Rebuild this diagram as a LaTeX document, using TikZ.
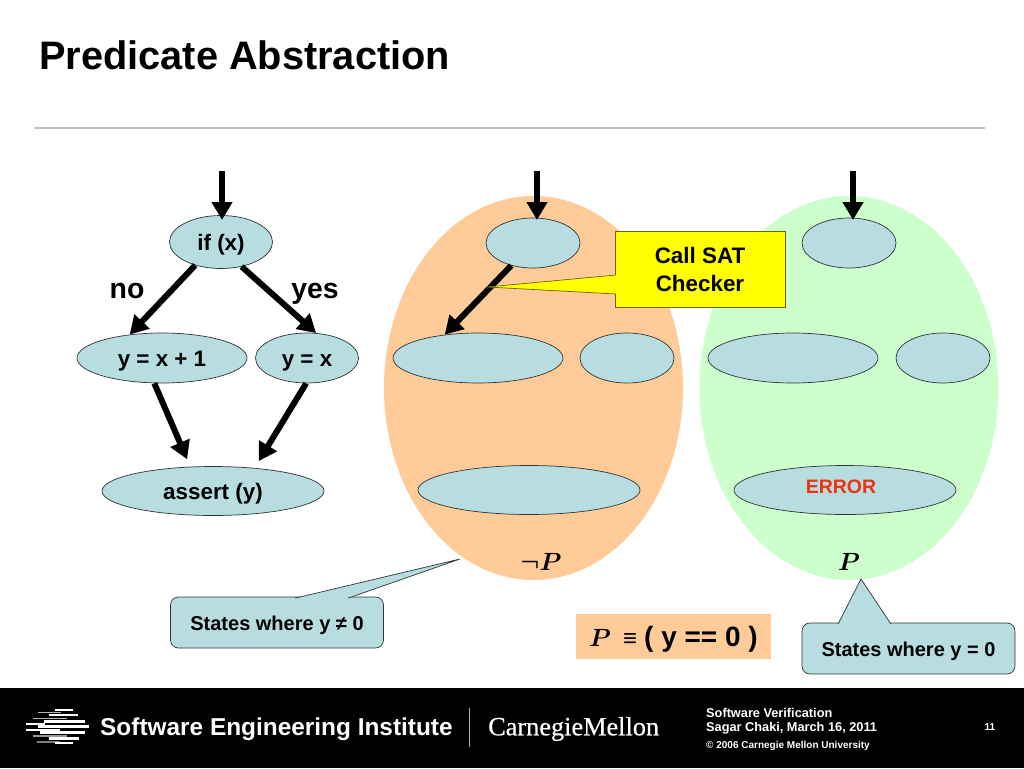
\documentclass[tikz,border=0pt]{standalone}
\usepackage{fontspec}
\setmainfont{Liberation Sans}
\newfontfamily\logoserif[FakeBold=0.5]{Liberation Serif}
\usetikzlibrary{shapes.geometric, arrows.meta, positioning}

\definecolor{stateblue}{HTML}{B7DDE1}
\definecolor{peach}{HTML}{FFCC99}
\definecolor{mint}{HTML}{CCFFCC}
\definecolor{edgegrey}{HTML}{333333}
\definecolor{calloutfill}{HTML}{FFFF00}
\definecolor{calloutedge}{HTML}{666600}
\definecolor{errorred}{HTML}{F03010}

\begin{document}
\begin{tikzpicture}[
  x=1pt, y=-1pt,
  every node/.style={font=\bfseries\fontsize{22.4}{28}\selectfont, inner sep=0pt},
  region/.style={ellipse, minimum width=299pt, minimum height=384pt},
  stateA/.style={ellipse, draw=edgegrey, fill=stateblue, line width=0.7pt, minimum height=50pt,
             text height=16pt, text depth=0pt},
  small/.style={stateA, minimum width=94pt},
  wide/.style={stateA, minimum width=170pt},
  long/.style={stateA, minimum width=222pt, minimum height=49pt},
  note/.style={draw=edgegrey, fill=stateblue, line width=0.7pt, rounded corners=8pt,
             minimum width=213pt, minimum height=51pt, text height=16pt, text depth=0pt,
             font=\bfseries\fontsize{20}{24}\selectfont},
  tip/.style={draw=edgegrey, fill=stateblue, line width=0.7pt},
  branch/.style={anchor=base, font=\bfseries\fontsize{28.4}{32}\selectfont},
  arrow/.style={-{Triangle[length=18pt,width=20pt]}, line width=6pt},
  symbol/.style={font=\boldmath\fontsize{30}{34}\selectfont},
  footer/.style={anchor=west, text=white, font=\bfseries\fontsize{12.75}{15}\selectfont}
]
\useasboundingbox (0,0) rectangle (1024,768);

% Title and rule
\node[anchor=west, font=\bfseries\fontsize{39.75}{46}\selectfont] (title) at (39,55) {Predicate Abstraction};
\coordinate (ruleL) at (34,128);
\coordinate (ruleR) at (985,128);
\draw[line width=1.2pt, black!25] (ruleL) -- (ruleR);

% Program
\node[small, minimum width=103pt, minimum height=53pt] (ifx) at (221,242) {if (x)};
\node[wide] (yinc) at (162,358) {y = x + 1};
\node[small, minimum width=103pt] (ysame) at (307,358) {y = x};
\node[long] (assert) at (213,491) {assert (y)};
\node[branch] (no) at (127,298) {no};
\node[branch] (yes) at (315,298) {yes};

% Regions
\node[region, fill=peach] (notP) at (533.5,388) {};
\node[region, fill=mint] (isP) at (849,388) {};

\node[small] (a1) at (533,243) {};
\node[wide] (a2) at (478,358) {};
\node[small] (a3) at (627,358) {};
\node[long] (a4) at (529,490) {};
\node[small] (b1) at (849,243) {};
\node[wide] (b2) at (793,358) {};
\node[small] (b3) at (943,358) {};
\node[long] (b4) at (845,490) {};
\node[text=errorred, font=\bfseries\fontsize{19.5}{22}\selectfont] (err) at (841,487) {ERROR};
\node[symbol] (notPlabel) at (541,562) {$\neg P$};
\node[symbol] (isPlabel) at (849,562) {$P$};

% Entry points
\coordinate (in1) at (222,171);
\coordinate (in2) at (537,171);
\coordinate (in3) at (853,171);
\coordinate (tip1) at (222,220);
\coordinate (tip2) at (537,220);
\coordinate (tip3) at (853,220);

% Arrows
\draw[arrow] (in1) -- (tip1);
\draw[arrow] (in2) -- (tip2);
\draw[arrow] (in3) -- (tip3);
\draw[arrow] (ifx.222) -- (yinc.144);
\draw[arrow] (ifx.310) -- (ysame.70);
\draw[arrow, shorten >=8pt] (yinc.253) -- (assert.133);
\draw[arrow, shorten >=8pt] (ysame.268) -- (assert.29);
\draw[arrow] (a1.226) -- (a2.145);

% Call out
\node[draw=calloutedge, fill=calloutfill, line width=0.7pt, minimum width=170pt, minimum height=76pt,
      align=center] (callsat) at (700,269) {Call SAT\\Checker};
\coordinate (callend) at (487,287);
\draw[draw=calloutedge, fill=calloutfill, line width=0.7pt]
  ([xshift=1.5pt,yshift=-6pt]callsat.west) -- (callend) -- ([xshift=1.5pt,yshift=-25pt]callsat.west);

% Notes
\node[note] (noteNot) at (277,622.5) {States where y ≠ 0};
\coordinate (noteNotEnd) at (460,559);
\draw[tip] ([xshift=18pt,yshift=-1.5pt]noteNot.north) -- (noteNotEnd) -- ([xshift=71pt,yshift=-1.5pt]noteNot.north);
\node[note] (noteIs) at (908.5,648.5) {States where y = 0};
\coordinate (noteIsEnd) at (861,579);
\draw[tip] ([xshift=-70.5pt,yshift=-1.5pt]noteIs.north) -- (noteIsEnd) -- ([xshift=-17.5pt,yshift=-1.5pt]noteIs.north);

\node[fill=peach, minimum width=195pt, minimum height=45pt, text height=20pt, text depth=0pt,
      font=\bfseries\fontsize{28}{32}\selectfont] (defP) at (673.5,636.5)
  {{\boldmath\fontsize{30}{34}\selectfont$P$}\hspace{12pt}{\fontsize{24}{28}\selectfont≡}\hspace{7pt}( y == 0 )};

% Footer
\fill[black] (0,688) rectangle (1024,768);
\foreach \ya/\xa/\xb/\wa/\sh in {
    710/55/73/2.4/100, 712.7/38/61/1.2/70, 715/49/78/2.6/100, 718.7/33/67/1.2/70,
    721.7/44/85/2.6/100, 724/26/45/1.2/100, 726.7/38/89/2.8/100, 730/26/60/1.2/100,
    732.7/40/85/2.6/100, 736/33/67/1.4/60, 738.7/49/79/2.6/100, 742/37/60/1.8/50, 743/55/73/2/100}
  \draw[white!\sh!black, line width=\wa pt] (\xa,\ya) -- (\xb,\ya);
\node[anchor=west, text=white, font=\bfseries\fontsize{24.4}{28}\selectfont] (sei) at (100,729) {Software Engineering Institute};
\coordinate (sepT) at (469,708);
\coordinate (sepB) at (469,747);
\draw[white!70!black, line width=0.6pt] (sepT) -- (sepB);
\node[anchor=west, text=white, font=\logoserif\fontsize{26.3}{30}\selectfont] (cmu) at (488,729) {CarnegieMellon};
\node[footer] (course) at (706,713) {Software Verification};
\node[footer] (date) at (706,728) {Sagar Chaki, March 16, 2011};
\node[footer, font=\bfseries\fontsize{10}{12}\selectfont] (copy) at (706,746) {© 2006 Carnegie Mellon University};
\node[text=white, font=\bfseries\fontsize{10}{12}\selectfont] (page) at (990,727) {11};

\end{tikzpicture}
\end{document}
